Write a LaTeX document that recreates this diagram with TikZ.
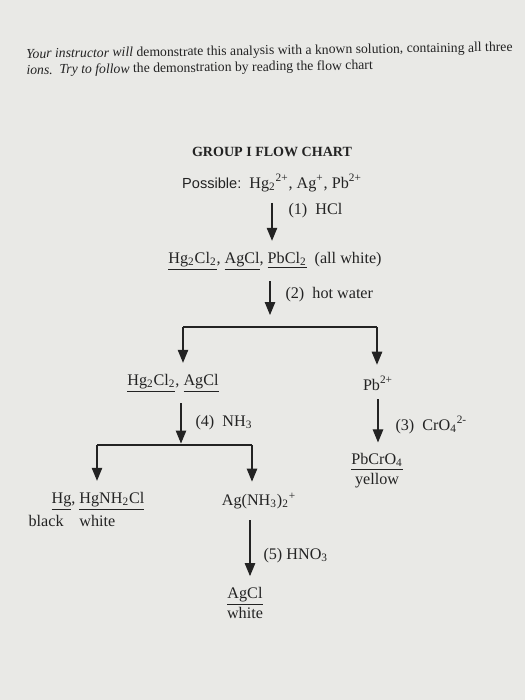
\documentclass[tikz,border=0pt]{standalone}
\usepackage{fontspec}
\setmainfont{Liberation Serif}
\newfontfamily\possans{Liberation Sans}
\usepackage{xcolor}
\usetikzlibrary{arrows.meta,positioning}
\definecolor{paper}{RGB}{233,233,230}
\definecolor{ink}{RGB}{35,35,35}
\newcommand{\sbs}[1]{\textsubscript{#1}}
\newcommand{\sps}[1]{\textsuperscript{#1}}
\newcommand{\cmpd}[1]{\underline{#1}}
\tikzset{
  >={Triangle[length=2.6mm,width=2.1mm]},
  chem/.style={font=\fontsize{9.2}{11.5}\selectfont, text=ink, inner sep=1pt, align=center},
  lbl/.style={font=\fontsize{9.2}{11.5}\selectfont, text=ink, anchor=west, inner sep=0pt},
  flow/.style={->, draw=ink, line width=0.6pt, shorten <=1.8mm, shorten >=1.8mm},
  bar/.style={draw=ink, line width=0.6pt}
}

\begin{document}
\begin{tikzpicture}[x=0.02cm, y=-0.02cm]
  \fill[paper] (0,0) rectangle (525,700);
  \useasboundingbox (0,0) rectangle (525,700);

  % Instructions
  \node[anchor=west, rotate=0.8, align=left, text=ink, inner sep=0pt,
        font=\fontsize{7.8}{9.2}\selectfont] (intro) at (26,63)
    {\textit{Your instructor will} demonstrate this analysis with a known solution, containing all three\\
     \textit{ions.~~Try to follow} the demonstration by reading the flow chart};

  % Title and start
  \node[chem, font=\bfseries\fontsize{8}{10}\selectfont] (title) at (272,152) {GROUP I FLOW CHART};
  \node[chem] (possible) at (272,183) {{\possans\fontsize{8.3}{10}\selectfont Possible:}~~Hg\sbs{2}\sps{2+}, Ag\sps{+}, Pb\sps{2+}};

  % Precipitates
  \node[chem] (mix) at (275,261) {\cmpd{Hg\sbs{2}Cl\sbs{2}}, \cmpd{AgCl}, \cmpd{PbCl\sbs{2}}~~(all white)};
  \node[chem] (hgag) at (173,383) {\cmpd{Hg\sbs{2}Cl\sbs{2}}, \cmpd{AgCl}};
  \node[chem] (pb) at (378,383) {Pb\sps{2+}};
  \node[chem] (pbcro) at (377,471) {\cmpd{PbCrO\sbs{4}}\\yellow};
  \node[chem] (hgs) at (98,501) {\cmpd{Hg}, \cmpd{HgNH\sbs{2}Cl}};
  \node[chem] (hgcol) at (72,521) {black\hspace{9pt}white};
  \node[chem] (agam) at (259,501) {Ag(NH\sbs{3})\sbs{2}\sps{+}};
  \node[chem] (agcl) at (245,603) {\cmpd{AgCl}\\white};

  % Forks
  \coordinate (fork1) at (270,327);
  \coordinate (fork1l) at (183,327);
  \coordinate (fork1r) at (377,327);
  \coordinate (fork2) at (181,445);
  \coordinate (fork2l) at (97,445);
  \coordinate (fork2r) at (252,445);

  % Steps
  \draw[flow] (possible) -- (possible |- mix.north)
    node[lbl, pos=0.3, xshift=3.2mm] {(1)~~HCl};
  \draw[flow, shorten >=2.4mm] (mix.south -| fork1) -- (fork1)
    node[lbl, pos=0.4, xshift=3mm] {(2)~~hot water};
  \draw[bar] (fork1l) -- (fork1r);
  \draw[flow, shorten <=0pt] (fork1l) -- (fork1l |- hgag.north);
  \draw[flow, shorten <=0pt] (fork1r) -- (fork1r |- pb.north);
  \draw[flow, shorten >=0.3mm] (hgag.south -| fork2) -- (fork2)
    node[lbl, pos=0.55, xshift=2.8mm] {(4)~~NH\sbs{3}};
  \draw[flow, shorten <=1.4mm] (pb) -- (pb |- pbcro.north)
    node[lbl, pos=0.55, xshift=3.4mm] {(3)~~CrO\sbs{4}\sps{2-}};
  \draw[bar] (fork2l) -- (fork2r);
  \draw[flow, shorten <=0pt] (fork2l) -- (fork2l |- hgs.north);
  \draw[flow, shorten <=0pt] (fork2r) -- (fork2r |- agam.north);
  \draw[flow] (agam.south -| 250,0) -- (agcl.north -| 250,0)
    node[lbl, pos=0.6, xshift=2.6mm] {(5) HNO\sbs{3}};
\end{tikzpicture}
\end{document}
